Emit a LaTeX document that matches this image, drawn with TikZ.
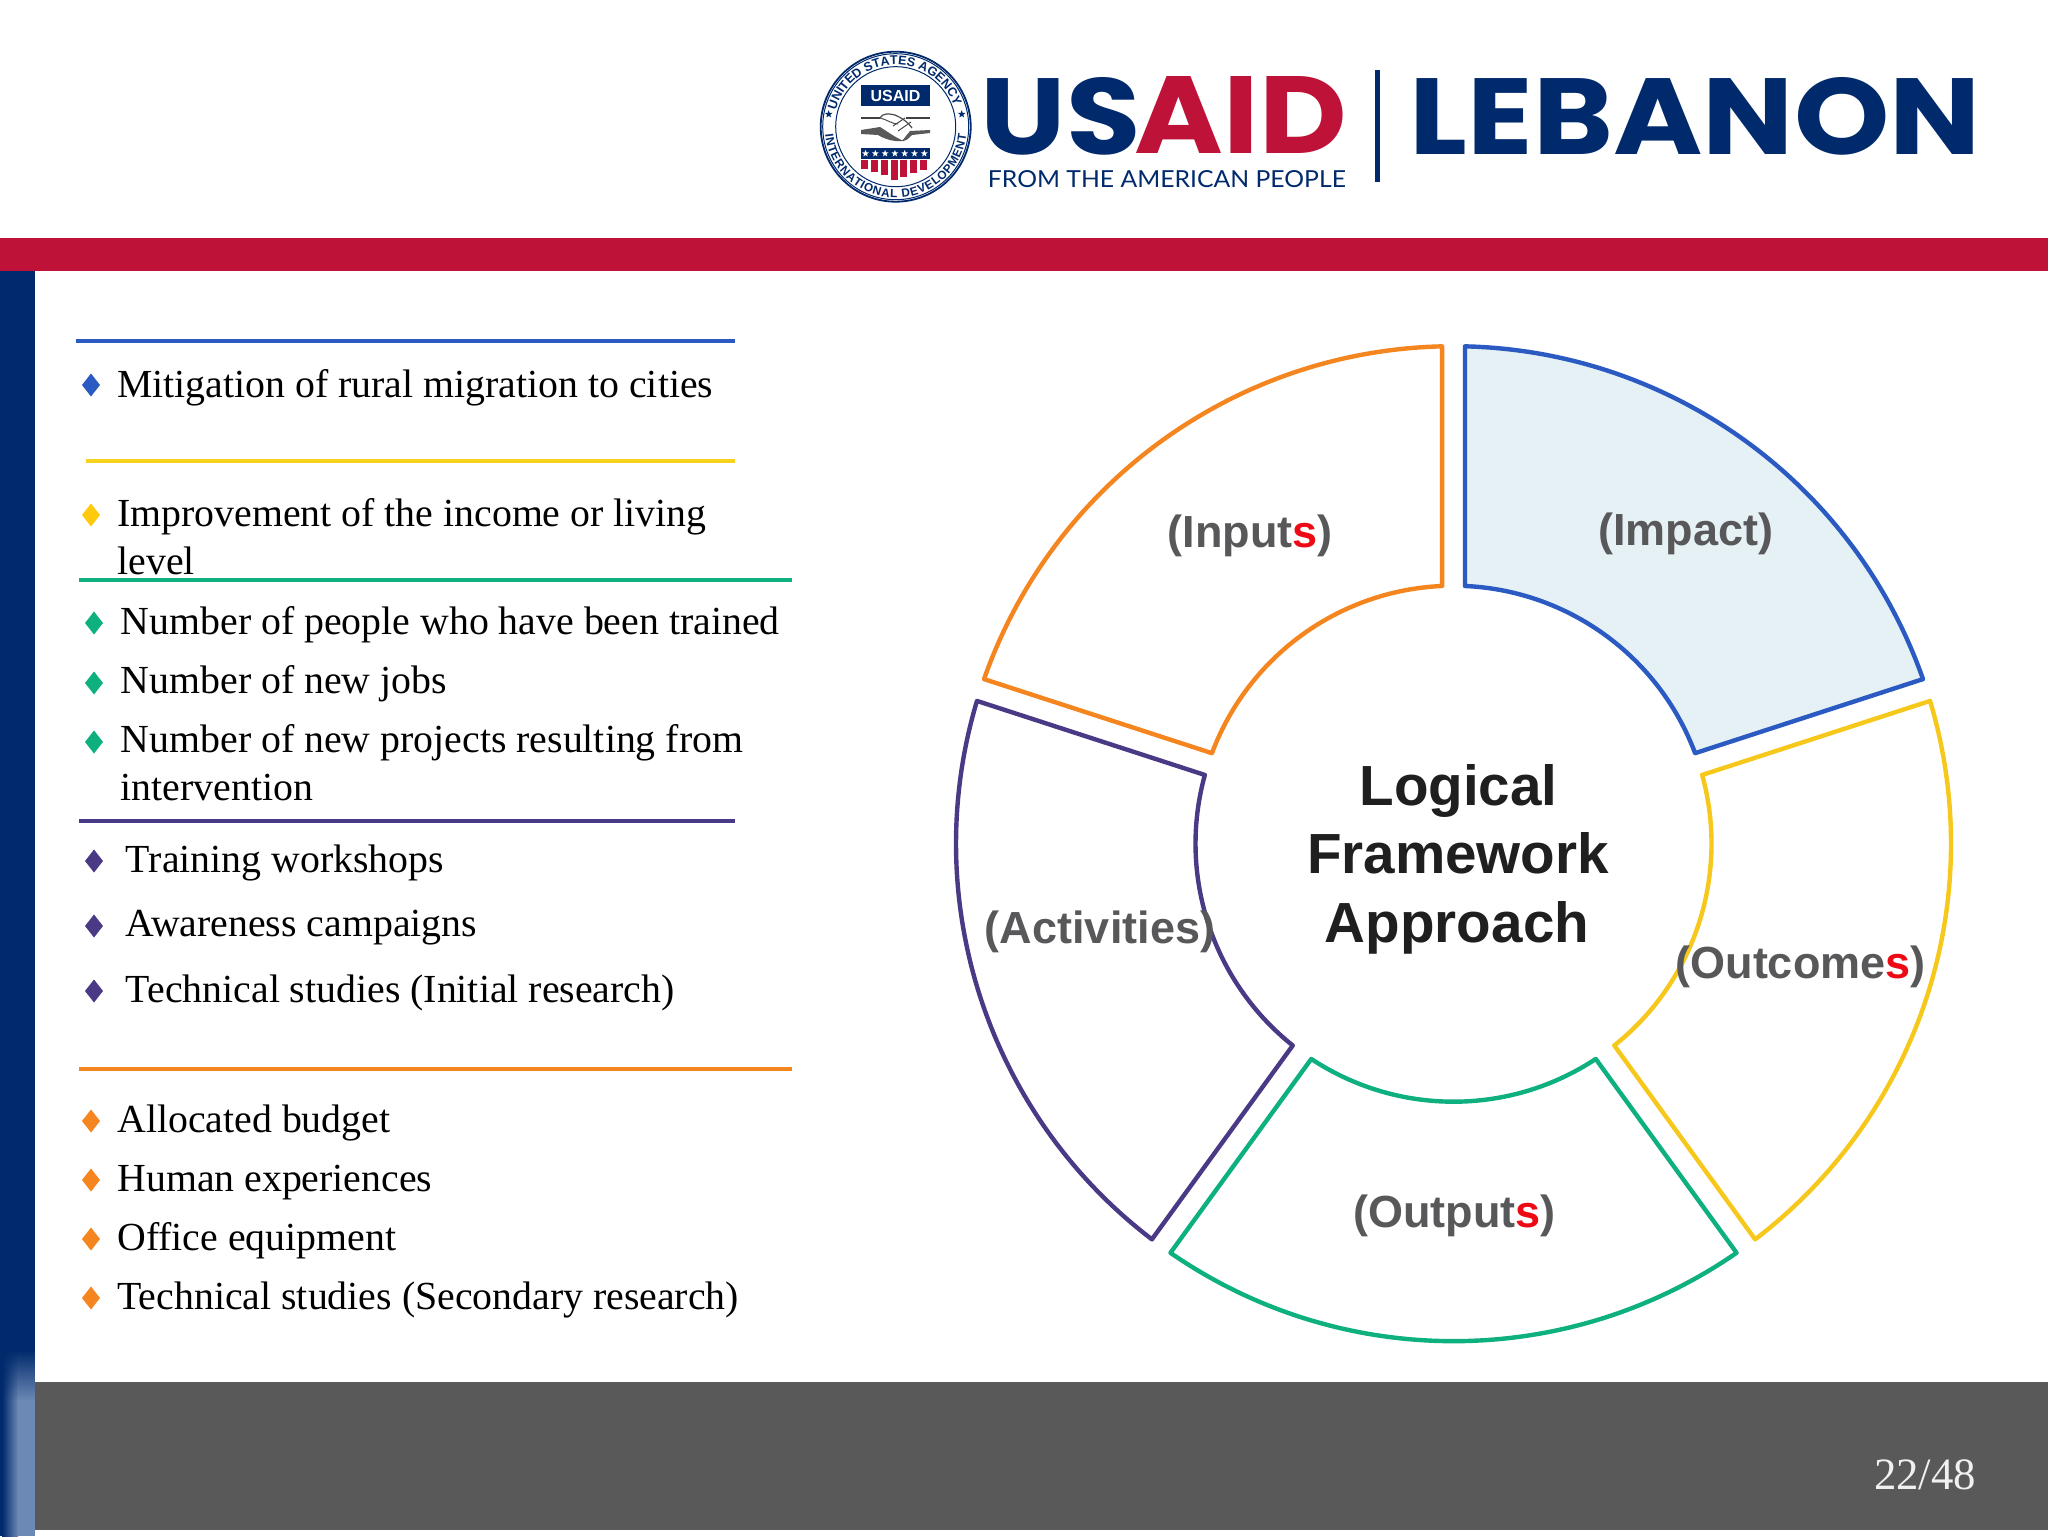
\documentclass[tikz,border=0pt]{standalone}
\usepackage{fontspec}
\usepackage{graphicx}
\usetikzlibrary{shapes.geometric,decorations.text,fadings}
\setmainfont{Liberation Serif}
\newfontfamily\arialfont{Liberation Sans}
\newfontfamily\logofont{Poppins}
\newfontfamily\gillfont{Lato}
\definecolor{navy}{HTML}{002A6C}
\definecolor{usred}{HTML}{BE1238}
\definecolor{bluec}{HTML}{2A5AC2}
\definecolor{yellowc}{HTML}{F7D21E}
\definecolor{bulyellow}{HTML}{FFC90E}
\definecolor{ringyellow}{HTML}{F7C81C}
\definecolor{greenc}{HTML}{0FB07F}
\definecolor{purplec}{HTML}{4A3A86}
\definecolor{orangec}{HTML}{F5851F}
\definecolor{graybar}{HTML}{595959}
\definecolor{labelgray}{HTML}{58585A}
\definecolor{sred}{HTML}{EE0A14}
\definecolor{impactfill}{HTML}{E5F1F5}
\definecolor{lite}{HTML}{6C88B4}
\tikzset{
  x=0.5pt,y=-0.5pt,
  body/.style={anchor=base west,inner sep=0pt,font=\fontsize{19.9}{24}\selectfont,text=black},
  seglabel/.style={anchor=base,inner sep=0pt,font=\arialfont\bfseries\fontsize{22.5}{27}\selectfont,text=labelgray},
  title/.style={anchor=base,inner sep=0pt,font=\arialfont\bfseries\fontsize{28.3}{34}\selectfont,text=black!88},
  rule/.style={line width=2.4pt},
  ring/.style={line width=2.2pt,line join=round},
  logotext/.style={anchor=base west,inner sep=0pt,text=navy},
  sealstar/.style={star,star points=5,star point ratio=2.4,fill=#1,draw=none,inner sep=0pt,minimum size=4pt},
}
\newcommand{\bul}[3]{\fill[#3] (#1,#2) ++(0,-11.5) -- ++(9,11.5) -- ++(-9,11.5) -- ++(-9,-11.5) -- cycle;}
% segment: colour options, start angle, end angle (counterclockwise)
\newcommand{\seg}[3]{\draw[ring,#1] (#2+1.32:497.5) arc[start angle=#2+1.32,end angle=#3-1.32,radius=497.5] -- (#3-2.545:258) arc[start angle=#3-2.545,end angle=#2+2.545,radius=258] -- cycle;}
\begin{document}
\begin{tikzpicture}
\useasboundingbox (0,0) rectangle (2048,1536);
\fill[white] (0,0) rectangle (2048,1536);
% frame
\fill[usred] (0,238) rectangle (2048,271);
\fill[navy] (0,271) rectangle (34.5,1536);
\shade[left color=navy,right color=lite] (2,1400) rectangle (18,1536);
\fill[lite] (18,1400) rectangle (34.5,1536);
\shade[left color=navy,right color=lite,path fading=north] (2,1350) rectangle (18,1400);
\fill[lite,path fading=north] (18,1350) rectangle (34.5,1400);
\fill[graybar] (34.5,1382) rectangle (2048,1530);
\node[anchor=base,inner sep=0pt,text=white!94!black,font=\fontsize{22.4}{26}\selectfont] (page) at (1925,1489) {22/48};
% logo wordmark
\node[logotext] (us) at (980.5,154) {\resizebox{80pt}{38.5pt}{\logofont\bfseries US}};
\node[logotext,text=usred] (aid) at (1134.4,154) {\resizebox{106pt}{38.5pt}{\logofont\bfseries AID}};
\node[logotext] (fromtext) at (987.5,187) {\resizebox{179pt}{8.5pt}{\gillfont FROM THE AMERICAN PEOPLE}};
\fill[navy] (1375,70) rectangle (1380,182);
\node[logotext] (lebanon) at (1409.5,154) {\resizebox{285.3pt}{38.5pt}{\logofont\bfseries LEBANON}};
% seal
\begin{scope}[shift={(895.7,126.7)},yscale=-1]
  \draw[navy,line width=0.9pt] (0,0) circle[radius=75];
  \draw[navy,line width=0.5pt] (0,0) circle[radius=73];
  \draw[navy,line width=0.5pt] (0,0) circle[radius=60];
  \path[decorate,decoration={text along path,text align={fit to path},text={|\arialfont\bfseries\fontsize{6.3}{7}\selectfont\color{navy}|UNITED STATES AGENCY}}] (165:62) arc[start angle=165,end angle=20,radius=62];
  \path[decorate,decoration={text along path,text align={fit to path},text={|\arialfont\bfseries\fontsize{5.9}{7}\selectfont\color{navy}|INTERNATIONAL DEVELOPMENT}}] (186:71) arc[start angle=186,end angle=354,radius=71];
  \node[sealstar=navy] (starL) at (-67,12.5) {};
  \node[sealstar=navy] (starR) at (66,12.5) {};
\end{scope}
\fill[navy] (860.5,85) rectangle (930,105.7);
\node[inner sep=0pt,text=white,font=\arialfont\bfseries\fontsize{8}{9}\selectfont] (sealusaid) at (895.5,95.5) {USAID};
% handshake
\draw[black!75,line width=0.5pt] (861,118) -- (880,118) (906,118) -- (930,118);
\draw[black!70,line width=0.6pt] (880,118) .. controls (884,112) and (890,114) .. (895,115) .. controls (902,118) and (908,122) .. (912,128);
\draw[black!70,line width=0.5pt] (880,118) .. controls (888,120) and (892,124) .. (898,124) (893,126) -- (905,118) (898,131) -- (911,122);
\fill[black!65] (861,130) -- (880,127) .. controls (888,132) and (896,138) .. (904,141) .. controls (896,142) and (886,140) .. (878,135) -- (861,134) -- cycle;
\fill[black!65] (910,131) -- (930,130) -- (930,133) -- (912,135) .. controls (908,139) and (906,141) .. (902,141) -- cycle;
% shield
\fill[navy] (860.5,148) rectangle (930,159);
\foreach \i in {0,...,6} {\node[sealstar=white,minimum size=3.6pt] (shstar\i) at (865.5+\i*9.8,153.5) {};}
\foreach \xa/\yb in {861/169,871/172,881/175,891/180,900/177,910/173,920/170} {\fill[usred] (\xa,160) rectangle (\xa+6.8,\yb);}
% rules
\draw[rule,bluec] (75.5,341) -- (735,341);
\draw[rule,yellowc] (86,461) -- (735,461);
\draw[rule,greenc] (79,580) -- (792,580);
\draw[rule,purplec] (79,821) -- (735,821);
\draw[rule,orangec] (79,1069) -- (792,1069);
% bullets
\bul{91}{385}{bluec}
\bul{91}{515}{bulyellow}
\bul{94}{623}{greenc}
\bul{94}{683}{greenc}
\bul{94}{742}{greenc}
\bul{94}{861}{purplec}
\bul{94}{926}{purplec}
\bul{94}{991}{purplec}
\bul{91}{1121}{orangec}
\bul{91}{1180}{orangec}
\bul{91}{1239}{orangec}
\bul{91}{1298}{orangec}
% texts
\node[body] (t1) at (117,397) {Mitigation of rural migration to cities};
\node[body] (t2) at (117,526) {Improvement of the income or living};
\node[body] (t2b) at (117,574) {level};
\node[body] (t3) at (120.5,634) {Number of people who have been trained};
\node[body] (t4) at (120.5,693) {Number of new jobs};
\node[body] (t5) at (120.5,752.5) {Number of new projects resulting from};
\node[body] (t5b) at (120.5,800) {intervention};
\node[body] (t6) at (125.5,872) {Training workshops};
\node[body] (t7) at (125.5,936.5) {Awareness campaigns};
\node[body] (t8) at (125.5,1002) {Technical studies (Initial research)};
\node[body] (t9) at (117,1132) {Allocated budget};
\node[body] (t10) at (117,1191) {Human experiences};
\node[body] (t11) at (117,1250) {Office equipment};
\node[body] (t12) at (117,1309) {Technical studies (Secondary research)};
% ring
\begin{scope}[shift={(1453.5,843.7)},yscale=-1]
  \seg{bluec,fill=impactfill}{18}{90}
  \seg{orangec}{90}{162}
  \seg{purplec}{162}{234}
  \seg{greenc}{234}{306}
  \seg{ringyellow}{306}{378}
\end{scope}
% ring labels
\node[seglabel] (impact) at (1685.5,545) {(Impact)};
\node[seglabel] (inputs) at (1250,547) {(Input\textcolor{sred}{s})};
\node[seglabel] (activities) at (1100,943) {(Activities)};
\node[seglabel] (outcomes) at (1800.5,978) {(Outcome\textcolor{sred}{s})};
\node[seglabel] (outputs) at (1454.5,1227) {(Output\textcolor{sred}{s})};
\node[title] (logical) at (1458.5,805) {Logical};
\node[title] (framework) at (1458,873) {Framework};
\node[title] (approach) at (1457,942) {Approach};
\end{tikzpicture}
\end{document}
